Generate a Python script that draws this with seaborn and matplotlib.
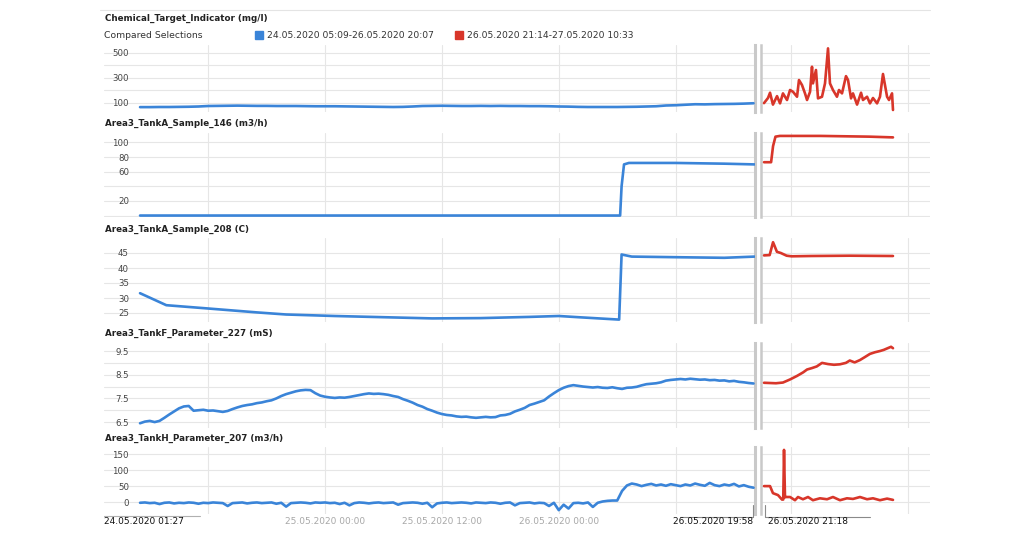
import numpy as np
import pandas as pd
import matplotlib
matplotlib.use("Agg")
import matplotlib.pyplot as plt
import seaborn as sns
from matplotlib.lines import Line2D
from matplotlib.patches import Rectangle

# ---------------- data (hours since 24.05.2020 00:00) ----------------
titles = ["Chemical_Target_Indicator (mg/l)",
          "Area3_TankA_Sample_146 (m3/h)",
          "Area3_TankA_Sample_208 (C)",
          "Area3_TankF_Parameter_227 (mS)",
          "Area3_TankH_Parameter_207 (m3/h)"]
legend_labels = ["24.05.2020 05:09-26.05.2020 20:07", "26.05.2020 21:14-27.05.2020 10:33"]

blue_t_hour = np.arange(5, 69, 1.0)        # hourly samples
blue_t_half = np.arange(5.0, 68.01, 0.5)   # half-hourly samples

chem_blue = [65, 65, 66, 66, 67, 68, 70,
             74, 75, 76, 77, 76, 75, 75,
             74, 74, 74, 73, 72, 72, 72,
             71, 70, 69, 68, 67, 66, 67,
             70, 74, 75, 76, 75, 74, 74,
             75, 74, 75, 74, 74, 73, 73,
             72, 70, 69, 67, 66, 66, 66,
             66, 67, 68, 70, 72, 78, 80,
             84, 88, 87, 89, 90, 91, 93,
             96]
chem_red_t = [69.17, 69.58, 69.79, 70.09, 70.51, 70.82, 71.12, 71.54, 71.85, 72.15,
              72.57, 72.77, 73.08, 73.39, 73.60, 73.91, 74.11, 74.21, 74.52, 74.73,
              75.14, 75.45, 75.76, 75.96, 76.27, 76.68, 76.89, 77.20, 77.61, 77.82,
              78.13, 78.33, 78.75, 79.16, 79.36, 79.78, 80.08, 80.39, 80.81, 81.11,
              81.42, 81.84, 82.04, 82.35, 82.45]
chem_red = [97, 138, 180, 85, 153, 95, 175, 122, 202, 188,
            148, 282, 242, 175, 122, 188, 388, 255, 362, 135,
            148, 255, 535, 255, 202, 148, 202, 175, 313, 282,
            135, 175, 85, 180, 122, 148, 95, 138, 95, 148,
            330, 148, 122, 175, 42]

s146_blue_t = [5.0, 54.3, 54.45, 54.7, 55.2, 60, 65, 68.1]
s146_blue = [0, 0, 40, 70, 72, 72, 71, 70]
s146_red_t = [69.17, 69.9, 70.1, 70.35, 70.8, 75, 80, 82.45]
s146_red = [73, 73, 95, 108, 109, 109, 108, 107]

s208_blue_t = [5.0, 7.7, 12, 17, 20, 25, 30, 35, 40, 45, 48, 50, 54.2, 54.45, 55.5, 60, 65, 68.1]
s208_blue = [31.6, 27.6, 26.5, 25.2, 24.5, 24.0, 23.6, 23.2, 23.3, 23.7, 24.0, 23.6, 22.8, 44.5, 43.8, 43.6, 43.4, 43.8]
s208_red_t = [69.17, 69.75, 70.1, 70.5, 70.9, 71.5, 72.0, 74, 78, 82.45]
s208_red = [44.2, 44.3, 48.6, 45.4, 45.0, 44.1, 43.9, 44.0, 44.1, 44.0]

p227_blue = [6.45, 6.52, 6.55, 6.50, 6.55, 6.68, 6.82, 6.95, 7.08, 7.16,
             7.18, 6.98, 7.00, 7.02, 6.98, 6.99, 6.96, 6.93, 6.97, 7.05,
             7.12, 7.18, 7.22, 7.25, 7.30, 7.33, 7.38, 7.42, 7.50, 7.60,
             7.68, 7.74, 7.80, 7.84, 7.86, 7.85, 7.72, 7.62, 7.57, 7.54,
             7.52, 7.54, 7.53, 7.56, 7.60, 7.64, 7.68, 7.71, 7.69, 7.70,
             7.68, 7.65, 7.60, 7.56, 7.47, 7.40, 7.32, 7.22, 7.15, 7.05,
             6.98, 6.90, 6.84, 6.80, 6.78, 6.74, 6.72, 6.73, 6.70, 6.68,
             6.70, 6.72, 6.70, 6.71, 6.78, 6.80, 6.85, 6.95, 7.02, 7.10,
             7.22, 7.28, 7.35, 7.42, 7.58, 7.72, 7.85, 7.95, 8.02, 8.06,
             8.03, 8.00, 7.98, 7.96, 7.98, 7.95, 7.94, 7.97, 7.93, 7.90,
             7.95, 7.96, 7.99, 8.05, 8.10, 8.12, 8.14, 8.18, 8.25, 8.28,
             8.30, 8.32, 8.30, 8.33, 8.31, 8.29, 8.30, 8.27, 8.28, 8.25,
             8.26, 8.22, 8.24, 8.20, 8.18, 8.15, 8.13]
p227_red_t = [69.17, 69.79, 70.4, 71.12, 71.85, 72.57, 73.2, 73.6, 74.1, 74.6,
              75.14, 75.76, 76.37, 76.99, 77.6, 78.0, 78.5, 79.05, 79.57, 80.08,
              80.6, 81.1, 81.5, 81.9, 82.25, 82.45]
p227_red = [8.16, 8.15, 8.14, 8.17, 8.30, 8.45, 8.60, 8.72, 8.78, 8.85,
            9.00, 8.95, 8.92, 8.94, 9.00, 9.10, 9.02, 9.12, 9.25, 9.38,
            9.45, 9.50, 9.55, 9.62, 9.68, 9.62]

p207_blue = [-2, -1, -3, -2, -6, -2, -1, -4, -2, -3,
             -1, -2, -5, -2, -3, -1, -2, -3, -12, -3,
             -2, -1, -4, -2, -1, -3, -2, -1, -5, -2,
             -14, -3, -2, -1, -2, -4, -1, -2, -1, -3,
             -2, -6, -2, -10, -3, -1, -2, -4, -2, -1,
             -3, -2, -1, -8, -3, -2, -1, -2, -5, -2,
             -16, -4, -2, -1, -3, -2, -1, -2, -4, -1,
             -2, -3, -1, -2, -5, -2, -1, -10, -3, -2,
             -1, -4, -2, -3, -12, -2, -25, -8, -20, -3,
             -2, -4, -1, -15, -2, 2, 4, 5, 5, 35,
             52, 58, 55, 50, 54, 57, 52, 55, 51, 56,
             53, 50, 55, 52, 58, 54, 51, 60, 53, 50,
             55, 52, 57, 49, 53, 48, 45]
p207_red_t = [69.17, 69.79, 70.09, 70.61, 71.02, 71.15, 71.23, 71.33, 71.43, 71.85,
              72.36, 72.67, 73.18, 73.70, 74.21, 74.93, 75.66, 76.27, 76.99, 77.71,
              78.33, 79.05, 79.78, 80.39, 81.11, 81.84, 82.45]
p207_red = [50, 50, 28, 22, 8, 8, 163, 15, 16, 16,
            6, 16, 9, 16, 6, 12, 9, 16, 6, 12,
            10, 16, 9, 12, 6, 11, 7]

yticks = [[100, 200, 300, 400, 500], [0, 20, 40, 60, 80, 100], [25, 30, 35, 40, 45],
          [6.5, 7.0, 7.5, 8.0, 8.5, 9.0, 9.5], [0, 50, 100, 150]]
ytick_labels = [["100", "", "300", "", "500"], ["", "20", "", "60", "80", "100"],
                ["25", "30", "35", "40", "45"], ["6.5", "", "7.5", "", "8.5", "", "9.5"],
                ["0", "50", "100", "150"]]
ylims = [(26, 562), (-2, 113), (22, 50), (6.25, 9.84), (-37, 172)]
left_grid_x = [12, 24, 36, 48, 60]
right_grid_x = [72, 84]
bottom_labels_mid = [(24, "25.05.2020 00:00"), (36, "25.05.2020 12:00"), (48, "26.05.2020 00:00")]

blue_series = [(blue_t_hour, chem_blue), (s146_blue_t, s146_blue), (s208_blue_t, s208_blue),
               (blue_t_half, p227_blue), (blue_t_half, p207_blue)]
red_series = [(chem_red_t, chem_red), (s146_red_t, s146_red), (s208_red_t, s208_red),
              (p227_red_t, p227_red), (p207_red_t, p207_red)]

# ---------------- style ----------------
sns.set_style("white")
plt.rcParams["font.family"] = ["DejaVu Sans"]
BLUE = "#3a84d8"
RED = "#d8362a"
GRID = "#e6e6e6"
SEP = "#c9c9c9"

W, H = 1030, 545
fig = plt.figure(figsize=(W / 100, H / 100), dpi=100)


def fx(px):
    return px / W


def fy(py):
    return 1 - py / H


panels = [(45, 112), (133, 217), (238, 322), (343, 428), (447, 514)]
title_y = [18, 123, 229, 333, 438]
L0, L1 = 104, 755
R0, R1 = 761, 930

axes_left, axes_right = [], []
for i, (top, bot) in enumerate(panels):
    h = (bot - top) / H
    axL = fig.add_axes([fx(L0), fy(bot), fx(L1 - L0), h])
    axR = fig.add_axes([fx(R0), fy(bot), fx(R1 - R0), h])
    bt, bv = blue_series[i]
    rt, rv = red_series[i]
    sns.lineplot(x=np.asarray(bt, float), y=np.asarray(bv, float), ax=axL, color=BLUE,
                 linewidth=1.9, estimator=None, legend=False, zorder=3)
    sns.lineplot(x=np.asarray(rt, float), y=np.asarray(rv, float), ax=axR, color=RED,
                 linewidth=1.9, estimator=None, legend=False, zorder=3)
    for ax, gx in ((axL, left_grid_x), (axR, right_grid_x)):
        ax.set_ylim(*ylims[i])
        ax.set_yticks(yticks[i])
        ax.set_xticks(gx)
        ax.grid(True, color=GRID, linewidth=0.8)
        ax.set_axisbelow(True)
        ax.set_xlabel("")
        ax.set_ylabel("")
        ax.tick_params(axis="x", length=0, labelbottom=False)
        for s in ax.spines.values():
            s.set_visible(False)
    axL.set_xlim(1.3, 68.15)
    axR.set_xlim(68.86, 86.26)
    axL.set_yticklabels(ytick_labels[i])
    axL.tick_params(axis="y", length=0, pad=-18, labelsize=6.2, labelcolor="#444")
    axR.tick_params(axis="y", length=0, labelleft=False)
    axL.spines["right"].set_visible(True)
    axL.spines["right"].set_color(SEP)
    axL.spines["right"].set_linewidth(2.2)
    axR.spines["left"].set_visible(True)
    axR.spines["left"].set_color(SEP)
    axR.spines["left"].set_linewidth(1.8)
    fig.text(fx(105), fy(title_y[i]), titles[i], fontsize=6.3, fontweight="bold",
             color="#222", va="center", ha="left")
    axes_left.append(axL)
    axes_right.append(axR)

# top border line
fig.add_artist(Line2D([fx(100), fx(930)], [fy(10), fy(10)], color="#e4e4e4", lw=0.8))

# legend row
fig.text(fx(104), fy(35), "Compared Selections", fontsize=6.7, color="#333", va="center")
fig.add_artist(Rectangle((fx(255), fy(39)), fx(8), 8 / H, color=BLUE, transform=fig.transFigure))
fig.text(fx(267), fy(35), legend_labels[0], fontsize=6.6, color="#333", va="center")
fig.add_artist(Rectangle((fx(455), fy(39)), fx(8), 8 / H, color=RED, transform=fig.transFigure))
fig.text(fx(467), fy(35), legend_labels[1], fontsize=6.6, color="#333", va="center")

# navigator brackets at the bottom
fig.add_artist(Line2D([fx(104), fx(200)], [fy(516), fy(516)], color="#b0b0b0", lw=0.8))
fig.add_artist(Line2D([fx(680), fx(753), fx(753)], [fy(517), fy(517), fy(505)], color="#8a8a8a", lw=0.8))
fig.add_artist(Line2D([fx(765), fx(765), fx(870)], [fy(505), fy(517), fy(517)], color="#8a8a8a", lw=0.8))

# bottom date labels
axb = axes_left[-1]
yb = fy(521)
fig.text(fx(104), yb, "24.05.2020 01:27", fontsize=6.5, color="#111", ha="left", va="center")
for xv, lab in bottom_labels_mid:
    xp = axb.transData.transform((xv, 0))[0] / fig.bbox.width
    fig.text(xp, yb, lab, fontsize=6.5, color="#a8a8a8", ha="center", va="center")
fig.text(fx(753), yb, "26.05.2020 19:58", fontsize=6.5, color="#111", ha="right", va="center")
fig.text(fx(768), yb, "26.05.2020 21:18", fontsize=6.5, color="#111", ha="left", va="center")

fig.savefig("out.png", dpi=100, facecolor="white")
